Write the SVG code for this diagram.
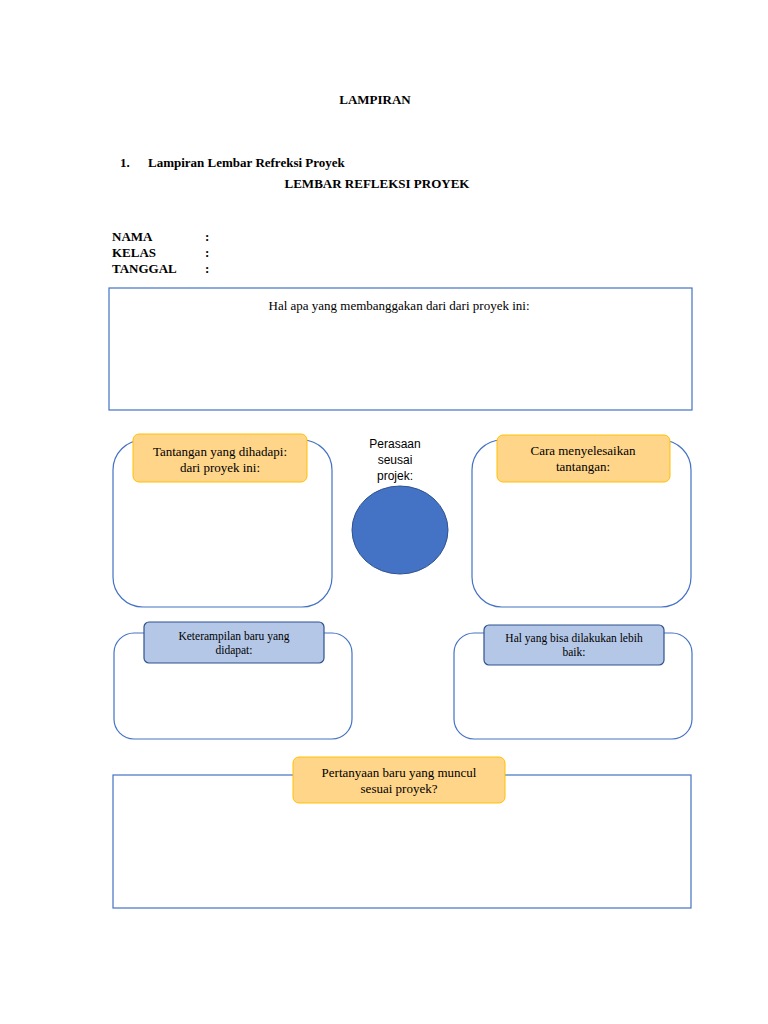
<svg xmlns="http://www.w3.org/2000/svg" width="768" height="1024" viewBox="0 0 768 1024">
<style>
text{font-family:"Liberation Serif",serif;font-size:13px;fill:#000}
.b{font-weight:bold}
.m{text-anchor:middle}
.s{font-size:11.5px}
.sans{font-family:"Liberation Sans",sans-serif;font-size:12px}
.frame{fill:#fff;stroke:#4472C4;stroke-width:1.2}
.or{fill:#FFD58A;stroke:#FFC000;stroke-width:1}
.bl{fill:#B4C7E7;stroke:#2F528F;stroke-width:1.2}
</style>
<rect width="768" height="1024" fill="#fff"/>
<text class="b m" x="375" y="104">LAMPIRAN</text>
<text class="b" x="120" y="167">1.</text>
<text class="b" x="148" y="167">Lampiran Lembar Refreksi Proyek</text>
<text class="b m" x="377" y="188">LEMBAR REFLEKSI PROYEK</text>
<text class="b" x="112" y="241">NAMA</text><text class="b" x="205" y="241">:</text>
<text class="b" x="112" y="257">KELAS</text><text class="b" x="205" y="257">:</text>
<text class="b" x="112" y="273">TANGGAL</text><text class="b" x="205" y="273">:</text>
<g id="bangga"><rect class="frame" x="109" y="288" width="583" height="122"/>
<text class="m" x="399" y="310">Hal apa yang membanggakan dari dari proyek ini:</text></g>
<g id="tantangan"><rect class="frame" x="113" y="440" width="219" height="167" rx="30"/>
<rect class="or" x="133" y="434" width="174" height="48" rx="6"/>
<text class="m" x="220" y="456">Tantangan yang dihadapi:</text><text class="m" x="220" y="472">dari proyek ini:</text></g>
<g id="perasaan"><text class="sans m" x="395" y="448">Perasaan</text><text class="sans m" x="395" y="464">seusai</text><text class="sans m" x="395" y="480">projek:</text>
<ellipse cx="400" cy="530" rx="48" ry="44" fill="#4472C4" stroke="#2F528F" stroke-width="1"/></g>
<g id="cara"><rect class="frame" x="472" y="440" width="219" height="167" rx="30"/>
<rect class="or" x="497" y="435" width="173" height="47" rx="6"/>
<text class="m" x="583" y="455">Cara menyelesaikan</text><text class="m" x="583" y="471">tantangan:</text></g>
<g id="keterampilan"><rect class="frame" x="114" y="633" width="238" height="106" rx="20"/>
<rect class="bl" x="144" y="622" width="180" height="41" rx="5"/>
<text class="s m" x="234" y="640">Keterampilan baru yang</text><text class="s m" x="234" y="654">didapat:</text></g>
<g id="lebihbaik"><rect class="frame" x="454" y="633" width="238" height="106" rx="20"/>
<rect class="bl" x="484" y="625" width="180" height="40" rx="5"/>
<text class="s m" x="574" y="642">Hal yang bisa dilakukan lebih</text><text class="s m" x="574" y="656">baik:</text></g>
<g id="pertanyaan"><rect class="frame" x="113" y="775" width="578" height="133" stroke-width="1.6"/>
<rect class="or" x="293" y="757" width="212" height="46" rx="6"/>
<text class="m" x="399" y="777">Pertanyaan baru yang muncul</text><text class="m" x="399" y="793">sesuai proyek?</text></g>
<g id="connectors"></g>
</svg>
